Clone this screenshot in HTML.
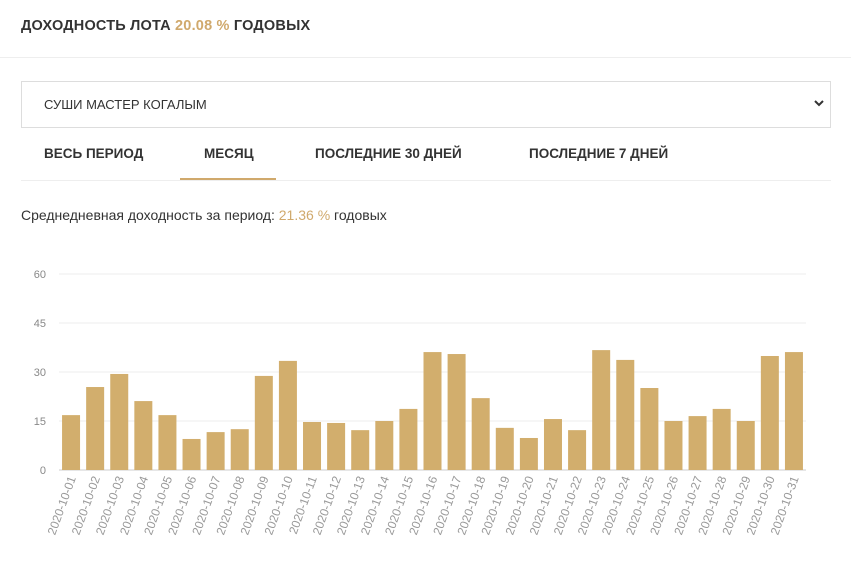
<!DOCTYPE html>
<html><head><meta charset="utf-8">
<style>
body{margin:0;width:851px;height:569px;background:#fff;font-family:"Liberation Sans",sans-serif;color:#333;position:relative;overflow:hidden}
.abs{position:absolute}
.title{left:21px;top:18px;font-size:14.5px;font-weight:bold;letter-spacing:0.2px}
.gold{color:#d0a96c}
.sel{left:21px;top:81px;width:808px;height:45px;border:1px solid #ddd;box-sizing:content-box}
.sel span{position:absolute;left:22px;top:15px;font-size:13px}
.tab{top:146px;font-size:13.5px;font-weight:bold;color:#333}
</style></head><body>
<div class="abs title">ДОХОДНОСТЬ ЛОТА <span class="gold">20.08 %</span> ГОДОВЫХ</div>
<div class="abs" style="left:0;top:57px;width:851px;height:1px;background:#eee"></div>
<div class="abs sel"><span>СУШИ МАСТЕР КОГАЛЫМ</span>
<svg style="position:absolute;right:6px;top:18px" width="10" height="8"><path d="M1 1 L5 5 L9 1" stroke="#333" stroke-width="2" fill="none"/></svg></div>
<div class="abs tab" style="left:44px">ВЕСЬ ПЕРИОД</div>
<div class="abs tab gold" style="left:204px">МЕСЯЦ</div>
<div class="abs tab" style="left:315px">ПОСЛЕДНИЕ 30 ДНЕЙ</div>
<div class="abs tab" style="left:529px">ПОСЛЕДНИЕ 7 ДНЕЙ</div>
<div class="abs" style="left:21px;top:180px;width:810px;height:1px;background:#eee"></div>
<div class="abs" style="left:180px;top:178px;width:96px;height:2px;background:#d0a96c"></div>
<div class="abs" style="left:21px;top:207px;font-size:14px">Среднедневная доходность за период: <span class="gold">21.36 %</span> годовых</div>
<svg class="abs" style="left:0;top:0" width="851" height="569" id="chart"></svg>
<script>
const categories=[];for(let d=1;d<=31;d++)categories.push('2020-10-'+String(d).padStart(2,'0'));
const values=[16.8,25.4,29.4,21.1,16.8,9.5,11.6,12.5,28.8,33.4,14.7,14.4,12.2,15.0,18.7,36.1,35.5,22.0,12.9,9.8,15.6,12.2,36.7,33.7,25.1,15.0,16.5,18.7,15.0,34.9,36.1];
const yTicks=[0,15,30,45,60];
const svg=document.getElementById('chart');const NS='http://www.w3.org/2000/svg';
const x0=59,x1=806,y0=470,y1=274;
const y=v=>y0-(v/60)*(y0-y1);
const step=(x1-x0)/categories.length;
const xc=i=>x0+step*(i+0.5);
function mk(t,a){const e=document.createElementNS(NS,t);for(const k in a)e.setAttribute(k,a[k]);svg.appendChild(e);return e;}
yTicks.forEach(t=>{
 const l=mk('line',{x1:x0,x2:x1,y1:y(t),y2:y(t),stroke:t===0?'#ccc':'#eee'});
 
 
 const tx=mk('text',{x:46,y:y(t)+4,'text-anchor':'end','font-size':11,fill:'#888','font-family':'Liberation Sans'});
 tx.textContent=t;
 
 
});
values.forEach((v,i)=>{
 const r=mk('rect',{x:xc(i)-9,y:y(v),width:18,height:y0-y(v),fill:'#d2ae6d'});
 
 
 const tx=mk('text',{x:0,y:0,'text-anchor':'end','font-size':12,fill:'#999','font-family':'Liberation Sans',transform:`translate(${xc(i)+5},${y0+8}) rotate(-70)`});
 tx.textContent=categories[i];
 
 
});
</script>
</body></html>
